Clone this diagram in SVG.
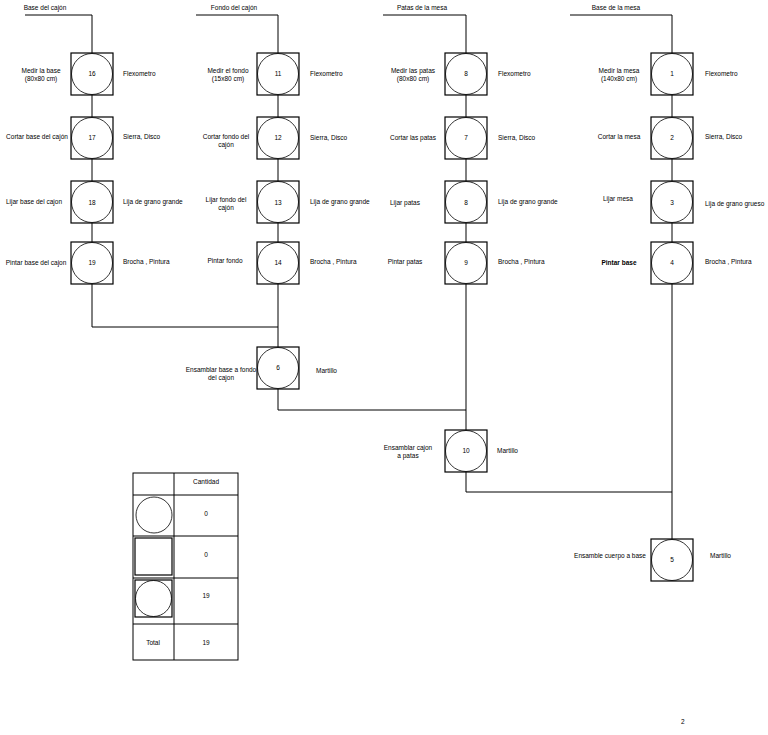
<svg xmlns="http://www.w3.org/2000/svg" width="768" height="735" viewBox="0 0 768 735">
<style>
text{font-family:"Liberation Sans",Arial,sans-serif;font-size:6.5px;fill:#000}
.b{fill:#fff;stroke:#000;stroke-width:1.2}
.c{fill:none;stroke:#000;stroke-width:0.8}
.l{fill:none;stroke:#000;stroke-width:1}
.m{text-anchor:middle}
</style>
<defs>
<g id="op"><rect class="b" x="-21" y="-21" width="42" height="42"/><circle class="c" cx="0" cy="0" r="20.5"/></g>
</defs>
<rect width="768" height="735" fill="#fff"/>
<g id="connectors" class="l">
<polyline class="l" points="25,15 92,15 92,53"/>
<polyline class="l" points="196,15 278,15 278,53"/>
<polyline class="l" points="383,15 466,15 466,53"/>
<polyline class="l" points="570,15 672,15 672,53"/>
<line class="l" x1="92" y1="95" x2="92" y2="117"/><line class="l" x1="92" y1="159" x2="92" y2="181"/><line class="l" x1="92" y1="223" x2="92" y2="242"/>
<line class="l" x1="278" y1="95" x2="278" y2="117"/><line class="l" x1="278" y1="159" x2="278" y2="181"/><line class="l" x1="278" y1="223" x2="278" y2="242"/>
<line class="l" x1="466" y1="95" x2="466" y2="117"/><line class="l" x1="466" y1="159" x2="466" y2="181"/><line class="l" x1="466" y1="223" x2="466" y2="242"/>
<line class="l" x1="672" y1="95" x2="672" y2="117"/><line class="l" x1="672" y1="159" x2="672" y2="181"/><line class="l" x1="672" y1="223" x2="672" y2="242"/>
<polyline class="l" points="92,284 92,327 278,327"/>
<line class="l" x1="278" y1="284" x2="278" y2="347"/>
<polyline class="l" points="278,389 278,410 466,410"/>
<line class="l" x1="466" y1="284" x2="466" y2="430"/>
<polyline class="l" points="466,472 466,492 672,492"/>
<line class="l" x1="672" y1="284" x2="672" y2="539"/>
</g>
<g class="m">
<text x="45" y="10">Base del cajón</text>
<text x="234" y="10">Fondo del cajón</text>
<text x="422" y="10">Patas de la mesa</text>
<text x="616" y="10">Base de la mesa</text>
</g>
<g id="n16"><use href="#op" x="92" y="74"/><text class="m" x="92" y="76">16</text><text class="m" x="41" y="73">Medir la base</text><text class="m" x="41" y="81">(80x80 cm)</text><text x="123" y="76">Flexometro</text></g>
<g id="n17"><use href="#op" x="92" y="138"/><text class="m" x="92" y="140">17</text><text class="m" x="37" y="139">Cortar base del cajón</text><text x="123" y="139">Sierra, Disco</text></g>
<g id="n18"><use href="#op" x="92" y="202"/><text class="m" x="92" y="205">18</text><text class="m" x="34" y="204">Lijar base del cajon</text><text x="123" y="204">Lija de grano grande</text></g>
<g id="n19"><use href="#op" x="92" y="263"/><text class="m" x="92" y="265">19</text><text class="m" x="36" y="265">Pintar base del cajon</text><text x="123" y="264">Brocha , Pintura</text></g>
<g id="n11"><use href="#op" x="278" y="74"/><text class="m" x="278" y="76">11</text><text class="m" x="228" y="73">Medir el fondo</text><text class="m" x="228" y="81">(15x80 cm)</text><text x="310" y="76">Flexometro</text></g>
<g id="n12"><use href="#op" x="278" y="138"/><text class="m" x="278" y="140">12</text><text class="m" x="226" y="139">Cortar fondo del</text><text class="m" x="226" y="147">cajón</text><text x="310" y="140">Sierra, Disco</text></g>
<g id="n13"><use href="#op" x="278" y="202"/><text class="m" x="278" y="205">13</text><text class="m" x="226" y="202">Lijar fondo del</text><text class="m" x="226" y="210">cajón</text><text x="310" y="204">Lija de grano grande</text></g>
<g id="n14"><use href="#op" x="278" y="263"/><text class="m" x="278" y="265">14</text><text class="m" x="225" y="263">Pintar fondo</text><text x="310" y="264">Brocha , Pintura</text></g>
<g id="n8a"><use href="#op" x="466" y="74"/><text class="m" x="466" y="76">8</text><text class="m" x="413" y="73">Medir las patas</text><text class="m" x="413" y="81">(80x80 cm)</text><text x="498" y="76">Flexometro</text></g>
<g id="n7"><use href="#op" x="466" y="138"/><text class="m" x="466" y="140">7</text><text class="m" x="413" y="140">Cortar las patas</text><text x="498" y="140">Sierra, Disco</text></g>
<g id="n8"><use href="#op" x="466" y="202"/><text class="m" x="466" y="205">8</text><text class="m" x="405" y="205">Lijar patas</text><text x="498" y="204">Lija de grano grande</text></g>
<g id="n9"><use href="#op" x="466" y="263"/><text class="m" x="466" y="265">9</text><text class="m" x="405" y="264">Pintar patas</text><text x="498" y="264">Brocha , Pintura</text></g>
<g id="n1"><use href="#op" x="672" y="74"/><text class="m" x="672" y="76">1</text><text class="m" x="619" y="73">Medir la mesa</text><text class="m" x="619" y="81">(140x80 cm)</text><text x="705" y="76">Flexometro</text></g>
<g id="n2"><use href="#op" x="672" y="138"/><text class="m" x="672" y="140">2</text><text class="m" x="619" y="139">Cortar la mesa</text><text x="705" y="139">Sierra, Disco</text></g>
<g id="n3"><use href="#op" x="672" y="202"/><text class="m" x="672" y="205">3</text><text class="m" x="618" y="201">Lijar mesa</text><text x="705" y="206">Lija de grano grueso</text></g>
<g id="n4"><use href="#op" x="672" y="263"/><text class="m" x="672" y="265">4</text><text class="m" x="619" y="265" font-weight="bold">Pintar base</text><text x="705" y="264">Brocha , Pintura</text></g>
<g id="n6"><use href="#op" x="278" y="368"/><text class="m" x="278" y="370">6</text><text class="m" x="221" y="372">Ensamblar base a fondo</text><text class="m" x="221" y="380">del cajon</text><text x="316" y="373">Martillo</text></g>
<g id="n10"><use href="#op" x="466" y="451"/><text class="m" x="466" y="453">10</text><text class="m" x="408" y="450">Ensamblar cajon</text><text class="m" x="408" y="458">a patas</text><text x="497" y="453">Martillo</text></g>
<g id="n5"><use href="#op" x="672" y="560"/><text class="m" x="672" y="562">5</text><text class="m" x="610" y="558">Ensamble cuerpo a base</text><text x="710" y="558">Martillo</text></g>
<g id="table">
<rect class="l" x="133" y="473" width="105" height="187"/>
<line class="l" x1="174" y1="473" x2="174" y2="660"/>
<line class="l" x1="133" y1="495" x2="238" y2="495"/>
<line class="l" x1="133" y1="536" x2="238" y2="536"/>
<line class="l" x1="133" y1="578" x2="238" y2="578"/>
<line class="l" x1="133" y1="624" x2="238" y2="624"/>
<circle class="c" cx="154" cy="515" r="18"/>
<rect class="b" x="135" y="538" width="37" height="37"/>
<rect class="b" x="135" y="580" width="37" height="37"/><circle class="c" cx="153.5" cy="598.5" r="18"/>
<text class="m" x="206" y="484">Cantidad</text>
<text class="m" x="206" y="516">0</text>
<text class="m" x="206" y="557">0</text>
<text class="m" x="206" y="598">19</text>
<text class="m" x="153" y="645">Total</text>
<text class="m" x="206" y="645">19</text>
</g>
<text x="681" y="724">2</text>
</svg>
